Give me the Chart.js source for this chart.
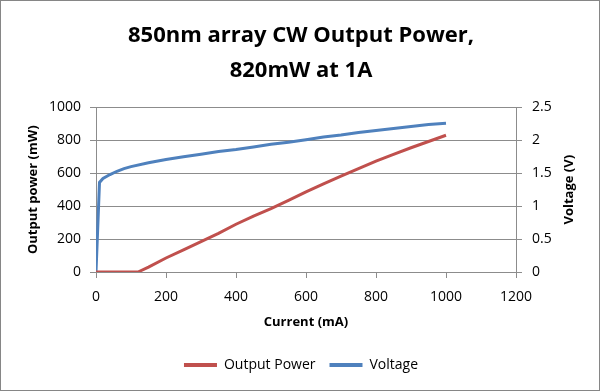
<!DOCTYPE html>
<html>
<head>
<meta charset="utf-8">
<script src="https://cdn.jsdelivr.net/npm/chart.js@4"></script>
<style>
  html, body { margin: 0; padding: 0; background: #fff; }
  #wrap { width: 600px; height: 391px; box-sizing: border-box; border: 1px solid #868686; }
</style>
</head>
<body>
<div id="wrap"><canvas id="c" width="598" height="389"></canvas></div>
<script>
// ── Data ─────────────────────────────────────────────────────────────────────
const powerCurrent = [0, 50, 100, 120, 150, 200, 250, 300, 350, 400, 450, 500, 550, 600, 650, 700, 750, 800, 850, 900, 950, 1000];
const powerValues  = [0, 0, 0, 0, 30, 85, 135, 185, 235, 290, 340, 385, 435, 487, 535, 582, 628, 674, 715, 755, 793, 831];

const voltCurrent = [0, 10, 20, 40, 60, 80, 100, 150, 200, 250, 300, 350, 400, 450, 500, 550, 600, 650, 700, 750, 800, 850, 900, 950, 1000];
const voltValues  = [0, 1.36, 1.42, 1.48, 1.53, 1.57, 1.60, 1.66, 1.71, 1.75, 1.79, 1.83, 1.86, 1.90, 1.94, 1.97, 2.01, 2.05, 2.08, 2.12, 2.15, 2.18, 2.21, 2.24, 2.26];

const titleLines = ['850nm array CW Output Power,', '820mW at 1A'];
const rightTitle = 'Voltage (V)';

// ── Colours ──────────────────────────────────────────────────────────────────
const RED = '#C0504D';
const BLUE = '#4F81BD';
const GRID = '#8c8c8c';
const FONT = "'Open Sans', sans-serif";

const toXY = (xs, ys) => xs.map((x, i) => ({ x, y: ys[i] }));
const plain = v => String(v);

// right axis title reads bottom-to-top, like the left one
const rightTitlePlugin = {
  id: 'rightTitle',
  afterDraw(chart) {
    const { ctx, chartArea } = chart;
    ctx.save();
    ctx.translate(568, (chartArea.top + chartArea.bottom) / 2);
    ctx.rotate(-Math.PI / 2);
    ctx.font = `bold 13px ${FONT}`;
    ctx.fillStyle = '#000';
    ctx.textAlign = 'center';
    ctx.textBaseline = 'middle';
    ctx.fillText(rightTitle, 0, 0);
    ctx.restore();
  },
};

new Chart(document.getElementById('c').getContext('2d'), {
  type: 'scatter',
  data: {
    datasets: [
      {
        label: 'Output Power',
        data: toXY(powerCurrent, powerValues),
        borderColor: RED,
        backgroundColor: RED,
        borderWidth: 3,
        showLine: true,
        pointRadius: 0,
        yAxisID: 'y',
      },
      {
        label: 'Voltage',
        data: toXY(voltCurrent, voltValues),
        borderColor: BLUE,
        backgroundColor: BLUE,
        borderWidth: 3,
        showLine: true,
        pointRadius: 0,
        yAxisID: 'y2',
      },
    ],
  },
  plugins: [rightTitlePlugin],
  options: {
    responsive: false,
    animation: false,
    layout: { padding: { left: 20, right: 18, top: 0, bottom: 8 } },
    plugins: {
      title: {
        display: true,
        text: titleLines,
        color: '#000',
        font: { family: FONT, size: 22, weight: 'bold', lineHeight: 1.6 },
        padding: { top: 17, bottom: 19 },
      },
      legend: {
        position: 'bottom',
        labels: {
          color: '#000',
          font: { family: FONT, size: 14 },
          boxWidth: 33,
          boxHeight: 4,
          padding: 14,
          generateLabels: chart =>
            Chart.defaults.plugins.legend.labels.generateLabels(chart).map(l => ({ ...l, lineWidth: 0 })),
        },
      },
      tooltip: { enabled: false },
    },
    scales: {
      x: {
        type: 'linear',
        min: 0, max: 1200,
        ticks: { stepSize: 200, padding: 11, color: '#000', font: { family: FONT, size: 14 }, callback: plain },
        grid: { drawOnChartArea: false, drawTicks: true, tickLength: 6, color: GRID },
        border: { color: GRID },
        title: {
          display: true, text: 'Current (mA)', color: '#000',
          font: { family: FONT, size: 13, weight: 'bold' },
          padding: { top: 0, bottom: 14 },
        },
        afterFit: s => { s.height = 72; },
      },
      y: {
        position: 'left',
        min: 0, max: 1000,
        ticks: { stepSize: 200, padding: 9, color: '#000', font: { family: FONT, size: 14 }, callback: plain },
        grid: { color: GRID, tickLength: 6 },
        border: { color: GRID },
        title: { display: true, text: 'Output power (mW)', color: '#000', font: { family: FONT, size: 13, weight: 'bold' } },
        afterFit: s => { s.width = 75; },
      },
      y2: {
        position: 'right',
        min: 0, max: 2.5,
        ticks: { stepSize: 0.5, padding: 10, color: '#000', font: { family: FONT, size: 14 }, callback: plain },
        grid: { drawOnChartArea: false, tickLength: 6, color: GRID },
        border: { color: GRID },
        afterFit: s => { s.width = 65; },
      },
    },
  },
});
</script>
</body>
</html>
